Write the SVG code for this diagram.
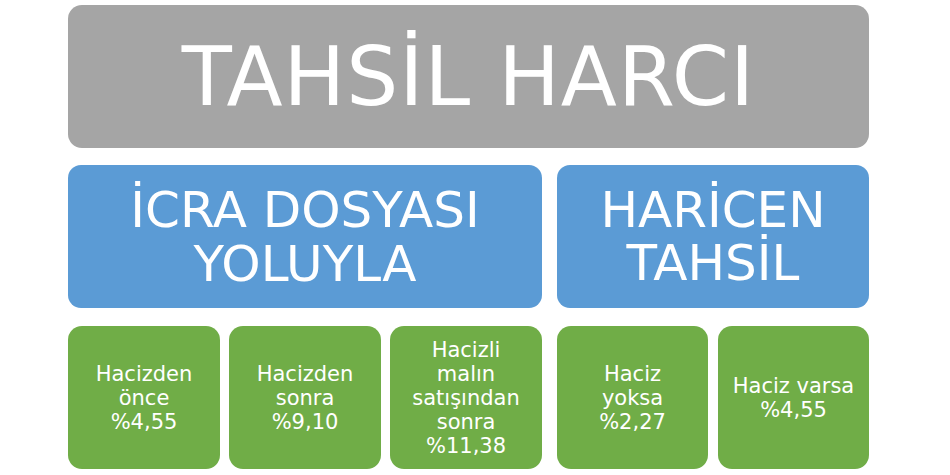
<svg xmlns="http://www.w3.org/2000/svg" width="950" height="475" viewBox="0 0 950 475">
<style>
.t{font-family:"DejaVu Sans","Liberation Sans",sans-serif;fill:#fff;text-anchor:middle}
.g{fill:#A5A5A5}
.b{fill:#5B9BD5}
.gr{fill:#70AD47}
.big{font-size:82px;letter-spacing:1px}
.mid{font-size:50px}
.sm{font-size:21px}
</style>
<rect width="950" height="475" fill="#fff"/>
<g id="connectors"></g>
<g id="title">
<rect class="g" x="68" y="5" width="801" height="143" rx="14"/>
<text class="t big" x="468.5" y="105">TAHSİL HARCI</text>
</g>
<g id="icra">
<rect class="b" x="68" y="165" width="474" height="143" rx="13"/>
<text class="t mid" x="305" y="227">İCRA DOSYASI</text>
<text class="t mid" x="305" y="281">YOLUYLA</text>
</g>
<g id="haricen">
<rect class="b" x="557" y="165" width="312" height="143" rx="13"/>
<text class="t mid" x="713" y="227">HARİCEN</text>
<text class="t mid" x="713" y="280">TAHSİL</text>
</g>
<g id="once">
<rect class="gr" x="68" y="326" width="152" height="143" rx="14"/>
<text class="t sm" x="144" y="381">Hacizden</text>
<text class="t sm" x="144" y="405">önce</text>
<text class="t sm" x="144" y="429">%4,55</text>
</g>
<g id="sonra">
<rect class="gr" x="229" y="326" width="152" height="143" rx="14"/>
<text class="t sm" x="305" y="381">Hacizden</text>
<text class="t sm" x="305" y="405">sonra</text>
<text class="t sm" x="305" y="429">%9,10</text>
</g>
<g id="satis">
<rect class="gr" x="390" y="326" width="152" height="143" rx="14"/>
<text class="t sm" x="466" y="357">Hacizli</text>
<text class="t sm" x="466" y="381">malın</text>
<text class="t sm" x="466" y="405">satışından</text>
<text class="t sm" x="466" y="429">sonra</text>
<text class="t sm" x="466" y="453">%11,38</text>
</g>
<g id="yoksa">
<rect class="gr" x="557" y="326" width="151" height="143" rx="14"/>
<text class="t sm" x="632.5" y="381">Haciz</text>
<text class="t sm" x="632.5" y="405">yoksa</text>
<text class="t sm" x="632.5" y="429">%2,27</text>
</g>
<g id="varsa">
<rect class="gr" x="718" y="326" width="151" height="143" rx="14"/>
<text class="t sm" x="793.5" y="393">Haciz varsa</text>
<text class="t sm" x="793.5" y="417">%4,55</text>
</g>
</svg>
